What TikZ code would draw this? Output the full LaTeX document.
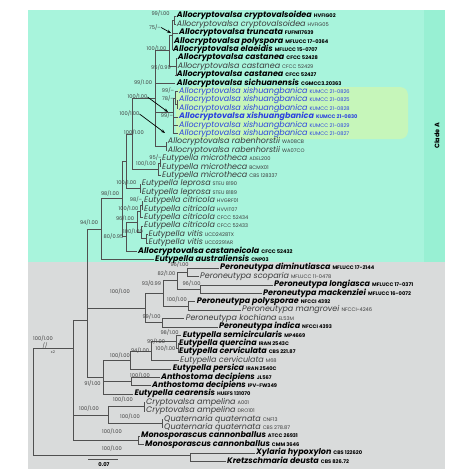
\documentclass[tikz,border=0pt]{standalone}
\usepackage{fontspec}
\setmainfont{Poppins}
\usetikzlibrary{arrows.meta}
\definecolor{mint}{HTML}{A8F4DC}
\definecolor{mintstrip}{HTML}{98F0D3}
\definecolor{greybg}{HTML}{D9DBDB}
\definecolor{hilite}{HTML}{C6F6BA}
\definecolor{regtext}{HTML}{3A3A3A}
\definecolor{bluetext}{HTML}{2C44E0}
\definecolor{linec}{HTML}{505050}
\definecolor{supc}{HTML}{404040}
\newcommand{\TaxB}[2]{\textbf{\textit{#1}}\hspace{2pt}{\fontsize{5.1}{6}\selectfont\bfseries #2}}
\newcommand{\TaxR}[2]{\textit{#1}\hspace{2pt}{\fontsize{5.1}{6}\selectfont #2}}
\tikzset{
 tip/.style={anchor=west, inner xsep=1.5pt, inner ysep=0pt, font=\fontsize{8.0}{9}\selectfont, text height=5.8pt, text depth=2pt},
 tipB/.style={tip, text=black},
 tipR/.style={tip, text=regtext},
 tipBl/.style={tip, text=bluetext},
 sup/.style={inner sep=0pt, font=\fontsize{5.1}{6}\selectfont, text=supc},
 br/.style={draw=linec, line width=0.5pt},
 arr/.style={draw=black, line width=0.7pt, -{Stealth[length=4pt,width=3pt]}},
}
\begin{document}
\begin{tikzpicture}[x=1pt,y=-1pt]
\useasboundingbox (0,0) rectangle (474,475);
\fill[white] (0,0) rectangle (474,475);
\fill[mint] (28,10) rectangle (445,262);
\fill[mintstrip] (424,10) rectangle (445,262);
\fill[greybg] (28,262) rectangle (445,469);
\fill[hilite, rounded corners=8pt] (176,87) rectangle (408,139);
\node[rotate=90, font=\fontsize{6.5}{7}\selectfont\bfseries] (cladeA) at (437,136) {Clade A};

% tips
\node[tipB] (t1) at (175.2,16.0) {\TaxB{Allocryptovalsa cryptovalsoidea}{HVFIG02}};
\node[tipR] (t2) at (175.2,24.4) {\TaxR{Allocryptovalsa cryptovalsoidea}{HVFIG05}};
\node[tipB] (t3) at (177.5,32.8) {\TaxB{Allocryptovalsa truncata}{FUFNI17639}};
\node[tipB] (t4) at (172.5,41.2) {\TaxB{Allocryptovalsa polyspora}{MFLUCC 17-0364}};
\node[tipB] (t5) at (171.5,49.6) {\TaxB{Allocryptovalsa elaeidis}{MFLUCC 15-0707}};
\node[tipB] (t6) at (176.2,58.0) {\TaxB{Allocryptovalsa castanea}{CFCC 52428}};
\node[tipR] (t7) at (176.2,66.4) {\TaxR{Allocryptovalsa castanea}{CFCC 52429}};
\node[tipB] (t8) at (175.2,74.8) {\TaxB{Allocryptovalsa castanea}{CFCC 52427}};
\node[tipB] (t9) at (175.2,83.2) {\TaxB{Allocryptovalsa sichuanensis}{CGMCC3.20363}};
\node[tipBl] (t10) at (177.5,91.6) {\TaxR{Allocryptovalsa xishuangbanica}{KUMCC 21-0826}};
\node[tipBl] (t11) at (177.5,100.0) {\TaxR{Allocryptovalsa xishuangbanica}{KUMCC 21-0825}};
\node[tipBl] (t12) at (177.5,108.4) {\TaxR{Allocryptovalsa xishuangbanica}{KUMCC 21-0828}};
\node[tipBl] (t13) at (177.5,116.8) {\TaxB{Allocryptovalsa xishuangbanica}{KUMCC 21-0830}};
\node[tipBl] (t14) at (177.5,125.2) {\TaxR{Allocryptovalsa xishuangbanica}{KUMCC 21-0829}};
\node[tipBl] (t15) at (177.5,133.6) {\TaxR{Allocryptovalsa xishuangbanica}{KUMCC 21-0827}};
\node[tipR] (t16) at (166.2,142.0) {\TaxR{Allocryptovalsa rabenhorstii}{WA08CB}};
\node[tipR] (t17) at (166.2,150.4) {\TaxR{Allocryptovalsa rabenhorstii}{WA07CO}};
\node[tipR] (t18) at (160.5,158.8) {\TaxR{Eutypella microtheca}{ADEL200}};
\node[tipR] (t19) at (160.5,167.2) {\TaxR{Eutypella microtheca}{BCMX01}};
\node[tipR] (t20) at (160.5,175.6) {\TaxR{Eutypella microtheca}{CBS 128337}};
\node[tipR] (t21) at (140.2,184.0) {\TaxR{Eutypella leprosa}{STEU 8190}};
\node[tipR] (t22) at (140.2,192.4) {\TaxR{Eutypella leprosa}{STEU 8189}};
\node[tipR] (t23) at (142.5,200.8) {\TaxR{Eutypella citricola}{HVGRF01}};
\node[tipR] (t24) at (142.5,209.2) {\TaxR{Eutypella citricola}{HVVIT07}};
\node[tipR] (t25) at (142.5,217.6) {\TaxR{Eutypella citricola}{CFCC 52434}};
\node[tipR] (t26) at (142.5,226.0) {\TaxR{Eutypella citricola}{CFCC 52433}};
\node[tipR] (t27) at (147.0,234.4) {\TaxR{Eutypella vitis}{UCD2428TX}};
\node[tipR] (t28) at (147.0,242.8) {\TaxR{Eutypella vitis}{UCD2291AR}};
\node[tipB] (t29) at (136.5,251.2) {\TaxB{Allocryptovalsa castaneicola}{CFCC 52432}};
\node[tipB] (t30) at (153.5,259.6) {\TaxB{Eutypella australiensis}{CNP03}};
\node[tipB] (t31) at (218.5,268.0) {\TaxB{Peroneutypa diminutiasca}{MFLUCC 17-2144}};
\node[tipR] (t32) at (198.5,276.4) {\TaxR{Peroneutypa scoparia}{MFLUCC 11-0478}};
\node[tipB] (t33) at (272.5,284.8) {\TaxB{Peroneutypa longiasca}{MFLUCC 17-0371}};
\node[tipB] (t34) at (261.5,293.2) {\TaxB{Peroneutypa mackenziei}{MFLUCC 16-0072}};
\node[tipB] (t35) at (195.2,301.6) {\TaxB{Peroneutypa polysporae}{NFCCI 4392}};
\node[tipR] (t36) at (240.5,310.0) {\TaxR{Peroneutypa mangrovei}{NFCCI-4246}};
\node[tipR] (t37) at (184.2,318.4) {\TaxR{Peroneutypa kochiana}{EL53M}};
\node[tipB] (t38) at (217.5,326.8) {\TaxB{Peroneutypa indica}{NFCCI 4393}};
\node[tipB] (t39) at (181.2,335.2) {\TaxB{Eutypella semicircularis}{MP4669}};
\node[tipB] (t40) at (177.5,343.6) {\TaxB{Eutypella quercina}{IRAN 2543C}};
\node[tipB] (t41) at (177.5,352.0) {\TaxB{Eutypella cerviculata}{CBS 221.87}};
\node[tipR] (t42) at (178.5,360.4) {\TaxR{Eutypella cerviculata}{M68}};
\node[tipB] (t43) at (171.2,368.8) {\TaxB{Eutypella persica}{IRAN 2540C}};
\node[tipB] (t44) at (159.5,377.2) {\TaxB{Anthostoma decipiens}{JL567}};
\node[tipB] (t45) at (150.5,385.6) {\TaxB{Anthostoma decipiens}{IPV-FW349}};
\node[tipB] (t46) at (132.8,394.0) {\TaxB{Eutypella cearensis}{HUEFS 131070}};
\node[tipR] (t47) at (144.5,402.4) {\TaxR{Cryptovalsa ampelina}{A001}};
\node[tipR] (t48) at (144.5,410.8) {\TaxR{Cryptovalsa ampelina}{DRO101}};
\node[tipR] (t49) at (162.5,419.2) {\TaxR{Quaternaria quaternata}{CNF13}};
\node[tipR] (t50) at (162.5,427.6) {\TaxR{Quaternaria quaternata}{CBS 278.87}};
\node[tipB] (t51) at (139.5,436.0) {\TaxB{Monosporascus cannonballus}{ATCC 26931}};
\node[tipB] (t52) at (143.5,444.4) {\TaxB{Monosporascus cannonballus}{CMM 3646}};
\node[tipB] (t53) at (254.5,452.8) {\TaxB{Xylaria hypoxylon}{CBS 122620}};
\node[tipB] (t54) at (225.5,461.2) {\TaxB{Kretzschmaria deusta}{CBS 826.72}};

% internal nodes
\coordinate (A1) at (174.5,20.2);
\coordinate (A3) at (172.5,35.0);
\coordinate (A5) at (176,66.4);
\coordinate (A6) at (169,50.7);
\coordinate (X1) at (177,104.2);
\coordinate (X2) at (175,97.9);
\coordinate (X3) at (173,112.6);
\coordinate (R1) at (166,146.2);
\coordinate (A7) at (155,98.4);
\coordinate (M1) at (160.5,163);
\coordinate (M2) at (158,169.3);
\coordinate (A10) at (132,133.8);
\coordinate (L1) at (140,188.2);
\coordinate (A11) at (126,161);
\coordinate (Cc1) at (142,205);
\coordinate (Cc2) at (140.5,211.3);
\coordinate (V1) at (146.5,238.6);
\coordinate (Cc3) at (141.5,232.3);
\coordinate (Cc4) at (137,221.8);
\coordinate (CV) at (126,236.5);
\coordinate (N98) at (122,198.7);
\coordinate (N94) at (101,229.2);
\coordinate (P1) at (187,272.2);
\coordinate (P2) at (200,289.0);
\coordinate (P3) at (177,280.6);
\coordinate (P4) at (188,305.8);
\coordinate (P5) at (163,293.2);
\coordinate (P6) at (162,322.6);
\coordinate (P7) at (145,307.9);
\coordinate (E1) at (178,347.8);
\coordinate (E2) at (176,341.5);
\coordinate (E3) at (151,351);
\coordinate (E4) at (130,359.9);
\coordinate (E5) at (131,381.4);
\coordinate (E7) at (103,377);
\coordinate (G1) at (87,320);
\coordinate (C1) at (144,406.6);
\coordinate (Q1) at (162.5,423.4);
\coordinate (CQ) at (108,415);
\coordinate (Mo) at (138,440.2);
\coordinate (G3) at (73,348);
\coordinate (Out) at (190,455);
\coordinate (Root) at (33,400);

% branches
\draw[br] (A1) |- (t1.west) (A1) |- (t2.west);
\draw[br] (A3) |- (A1) (A3) |- (t3.west) (A3) |- (t4.west) (A3) |- (t5.west);
\draw[br] (A5) |- (t6.west) (A5) |- (t7.west) (A5) |- (t8.west);
\draw[br] (A6) |- (A3) (A6) |- (A5);
\draw[br] (X1) |- (t11.west) (X1) |- (t12.west);
\draw[br] (X2) |- (t10.west) (X2) |- (X1);
\draw[br] (X3) |- (X2) (X3) |- (t13.west) (X3) |- (t14.west) (X3) |- (t15.west);
\draw[br] (R1) |- (t16.west) (R1) |- (t17.west);
\draw[br] (A7) |- (A6) (A7) |- (t9.west) (A7) |- (X3) (A7) |- (R1);
\draw[br] (M1) |- (t18.west) (M1) |- (t19.west);
\draw[br] (M2) |- (M1) (M2) |- (t20.west);
\draw[br] (A10) |- (A7) (A10) |- (M2);
\draw[br] (L1) |- (t21.west) (L1) |- (t22.west);
\draw[br] (A11) |- (A10) (A11) |- (L1);
\draw[br] (Cc1) |- (t23.west) (Cc1) |- (t24.west);
\draw[br] (Cc2) |- (Cc1) (Cc2) |- (t25.west);
\draw[br] (V1) |- (t27.west) (V1) |- (t28.west);
\draw[br] (Cc3) |- (t26.west) (Cc3) |- (V1);
\draw[br] (Cc4) |- (Cc2) (Cc4) |- (Cc3);
\draw[br] (CV) |- (Cc4) (CV) |- (t29.west);
\draw[br] (N98) |- (A11) (N98) |- (CV);
\draw[br] (N94) |- (N98) (N94) |- (t30.west);
\draw[br] (P1) |- (t31.west) (P1) |- (t32.west);
\draw[br] (P2) |- (t33.west) (P2) |- (t34.west);
\draw[br] (P3) |- (P1) (P3) |- (P2);
\draw[br] (P4) |- (t35.west) (P4) |- (t36.west);
\draw[br] (P5) |- (P3) (P5) |- (P4);
\draw[br] (P6) |- (t37.west) (P6) |- (t38.west);
\draw[br] (P7) |- (P5) (P7) |- (P6);
\draw[br] (E1) |- (t40.west) (E1) |- (t41.west);
\draw[br] (E2) |- (t39.west) (E2) |- (E1);
\draw[br] (E3) |- (E2) (E3) |- (t42.west);
\draw[br] (E4) |- (E3) (E4) |- (t43.west);
\draw[br] (E5) |- (t44.west) (E5) |- (t45.west);
\draw[br] (E7) |- (E4) (E7) |- (E5) (E7) |- (t46.west);
\draw[br] (G1) |- (N94) (G1) |- (P7) (G1) |- (E7);
\draw[br] (C1) |- (t47.west) (C1) |- (t48.west);
\draw[br] (Q1) |- (t49.west) (Q1) |- (t50.west);
\draw[br] (CQ) |- (C1) (CQ) |- (Q1);
\draw[br] (Mo) |- (t51.west) (Mo) |- (t52.west);
\draw[br] (G3) |- (G1) (G3) |- (CQ) (G3) |- (Mo);
\draw[br] (Out) |- (t53.west) (Out) |- (t54.west);
\draw[br] (Root) |- (G3) (Root) |- (Out);

% support values
\node[sup] (s1) at (160.5,14) {99/1.00};
\node[sup] (s2) at (155,27.5) {75/--};
\node[sup] (s3) at (156.5,49) {100/1.00};
\node[sup] (s4) at (161,67.5) {95/0.99};
\node[sup] (s5) at (143,83) {99/1.00};
\node[sup] (s6) at (168,90.5) {99/--};
\node[sup] (s7) at (168,99) {78/--};
\node[sup] (s8) at (137.5,97) {100/1.00};
\node[sup] (s9) at (167,116) {99/--};
\node[sup] (s10) at (129.5,114) {100/1.00};
\node[sup] (s11) at (134,132.5) {100/1.00};
\node[sup] (s12) at (155.5,157.5) {95/--};
\node[sup] (s13) at (146,164) {100/1.00};
\node[sup] (s14) at (126.5,182.5) {100/1.00};
\node[sup] (s15) at (110,194) {98/1.00};
\node[sup] (s16) at (136,200) {98/--};
\node[sup] (s17) at (128.5,209) {100/1.00};
\node[sup] (s18) at (125,219) {96/1.00};
\node[sup] (s19) at (133,231.5) {100/1.00};
\node[sup] (s20) at (89,223) {94/1.00};
\node[sup] (s21) at (113.5,237) {80/0.95};
\node[sup] (s22) at (179.5,265) {96/1.00};
\node[sup] (s23) at (166.5,274) {82/1.00};
\node[sup] (s24) at (151.5,284) {93/0.99};
\node[sup] (s25) at (191.5,284) {96/1.00};
\node[sup] (s26) at (120,292) {100/1.00};
\node[sup] (s27) at (177,300) {100/1.00};
\node[sup] (s28) at (151.5,317) {99/1.00};
\node[sup] (s29) at (169.5,333) {98/1.00};
\node[sup] (s30) at (156,341.5) {99/1.00};
\node[sup] (s31) at (165.5,348.5) {100/1.00};
\node[sup] (s32) at (140,351) {94/1.00};
\node[sup] (s33) at (120,356) {100/1.00};
\node[sup] (s34) at (140,375.5) {100/1.00};
\node[sup] (s35) at (92.5,384) {91/1.00};
\node[sup] (s36) at (123,400) {100/1.00};
\node[sup] (s37) at (89,409) {100/1.00};
\node[sup] (s38) at (130,416.5) {100/1.00};
\node[sup] (s39) at (112,432) {100/1.00};
\node[sup] (s40) at (112,449) {100/1.00};
\node[sup] (s41) at (43,339) {100/1.00};
\node[sup] (brk) at (45,346) {//};
\node[sup, font=\fontsize{3.8}{4}\selectfont] (xtwo) at (53,352) {x2};

% arrows
\coordinate (aw1) at (171,33);
\coordinate (aw2) at (168,112);
\coordinate (aw3) at (165,133);
\draw[arr] (s2.east) -- (aw1);
\draw[arr] (s8.east) -- (aw2);
\draw[arr] (s10.east) -- (aw3);

% scale bar
\coordinate (sb1) at (88,459);
\coordinate (sb2) at (118,459);
\draw[br] (sb1) -- (sb2);
\node[font=\fontsize{5.2}{6}\selectfont\bfseries] (sbl) at (104,465) {0.07};
\end{tikzpicture}
\end{document}
